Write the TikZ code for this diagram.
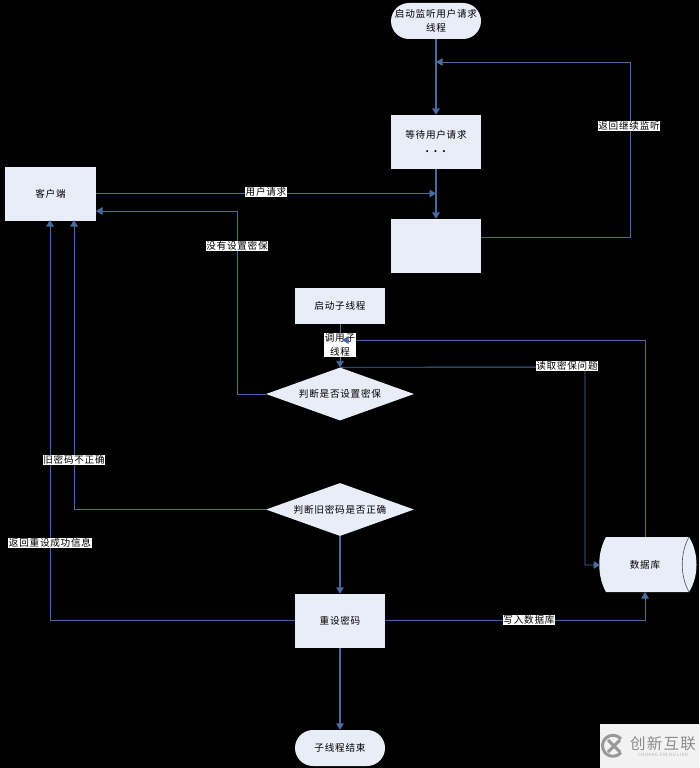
\documentclass[tikz,border=0pt]{standalone}
\usepackage{fontspec}
\setmainfont{Noto Sans CJK SC}[LetterSpace=8]
\usetikzlibrary{arrows.meta,shapes.geometric}
\definecolor{boxFill}{HTML}{E8EDF7}
\definecolor{linkBlue}{HTML}{4A6A9E}
\begin{document}
\begin{tikzpicture}
        [x=1pt,y=-1pt,
        every node/.style={font=\fontsize{9.6}{14}\selectfont, text=black, align=center},
        box/.style={rectangle, fill=boxFill, minimum width=90pt, minimum height=54pt, inner sep=0pt},
        term/.style={rectangle, rounded corners=18pt, fill=boxFill, minimum width=90pt, minimum height=36pt, inner sep=0pt},
        choice/.style={diamond, fill=boxFill, minimum width=148pt, minimum height=53pt, inner sep=0pt, aspect=2.8},
        link/.style={linkBlue, line width=0.9pt, -{Triangle[length=6.5pt,width=7.5pt]}},
        linkBold/.style={linkBlue, line width=1.6pt, -{Triangle[length=6.5pt,width=7.5pt]}},
        tag/.style={fill=white, inner sep=0.5pt}]
        \useasboundingbox (0,0) rectangle (699,768);
        \fill[black] (0,0) rectangle (699,768);

        \node[term] (start) at (436,21) {启动监听用户请求\\线程};
        \node[box] (wait) at (436,142) {等待用户请求\\\textbf{.\hspace{5pt}.\hspace{5pt}.}};
        \node[box, minimum width=91pt] (client) at (50.5,193.5) {客户端};
        \node[box] (blank) at (436,246) {};
        \node[box, minimum height=36pt] (sub) at (340,306) {启动子线程};
        \node[choice] (check) at (340,394) {判断是否设置密保};
        \node[choice] (old) at (340,509.5) {判断旧密码是否正确};
        \node[box] (reset) at (340,621) {重设密码};
        \node[term] (finish) at (340,748) {子线程结束};
        \node[rectangle, minimum width=97pt, minimum height=55pt, inner sep=0pt] (db) at (648.5,564.5) {};
        \fill[boxFill] (606,537) -- (689,537) .. controls (699,553) and (699,576) .. (689,592)
            -- (606,592) .. controls (597,576) and (597,553) .. (606,537) -- cycle;
        \draw[black!70, line width=0.6pt] (689,537) .. controls (680,553) and (680,576) .. (689,592);
        \node (dbText) at (645,564.5) {数据库};

        \coordinate (contOut) at (481,237);
        \coordinate (contIn) at (436,62);
        \coordinate (contBend) at (630,62);
        \coordinate (reqIn) at (436,193.5);
        \coordinate (noPwdBend) at (237,211);
        \coordinate (noPwdIn) at (96,211);
        \coordinate (wrongIn) at (74,220);
        \coordinate (okIn) at (50,220);
        \coordinate (readBend) at (585,367);
        \coordinate (readIn) at (600,565);
        \coordinate (dbOut) at (645,537);
        \coordinate (dbBend) at (645,340);
        \coordinate (dbIn) at (342,340);
        \coordinate (dbTip) at (349,340);
        \coordinate (writeIn) at (645,592);
        \coordinate (resetOut) at (385,620);
        \coordinate (resetBack) at (295,620);

        \draw[linkBold] (start) -- (wait);
        \draw[linkBold] (wait) -- (blank);
        \draw[link] (sub) -- (check);
        \draw[linkBold] (old) -- (reset);
        \draw[linkBold] (reset) -- (finish);

        \draw[link] (client.east) -- (reqIn);
        \draw[link] (contOut) -| (contBend) -- (contIn);
        \draw[link] (check.west) -| (noPwdBend) -- (noPwdIn);
        \draw[link] (check.north) -- (readBend) -- (readIn -| readBend) -- (readIn);
        \draw[link] (dbOut) -- (dbBend) -- (dbIn);
        \draw[link] (old.west) -| (wrongIn);
        \draw[link] (resetBack) -| (okIn);
        \draw[link] (resetOut) -| (writeIn);

        \node[tag] (reqTag) at (266,192) {用户请求};
        \node[tag] (contTag) at (629,126) {返回继续监听};
        \node[tag] (noPwdTag) at (237,246) {没有设置密保};
        \node[tag] (callTag) at (340,345) {调用子\\线程};
        \node[tag] (readTag) at (567,366) {读取密保问题};
        \node[tag] (wrongTag) at (74,460) {旧密码不正确};
        \node[tag] (okTag) at (50,543) {返回重设成功信息};
        \node[tag] (writeTag) at (529,620) {写入数据库};

        \draw[link] (dbTip) -- (dbIn);

        % watermark
        \fill[white!95!black] (600,724) rectangle (699,768);
        \draw[black!40, line width=3pt] (621,739) arc (40:320:10.5pt);
        \draw[black!40, line width=3pt] (608,740) -- (620,752);
        \draw[black!40, line width=3pt] (608,752) -- (620,740);
        \node[text=black!45, font=\fontsize{15.5}{15.5}\selectfont] (markText) at (663,744) {创新互联};
        \node[text=black!30, font=\fontsize{4.5}{4.5}\selectfont] (markSub) at (663,755) {CHUANG XIN HU LIAN};
    \end{tikzpicture}
\end{document}
